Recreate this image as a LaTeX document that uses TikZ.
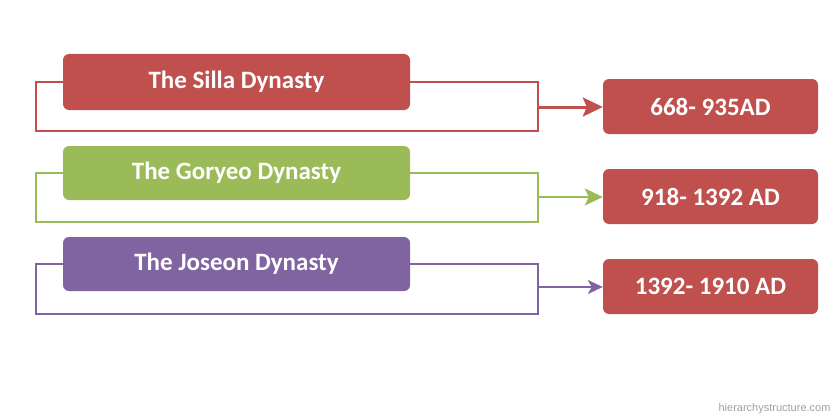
\documentclass[tikz,border=0pt]{standalone}
\usepackage{fontspec}
\setmainfont{Carlito}
\newfontfamily\wmfont{Liberation Sans}
\usetikzlibrary{arrows.meta}
\definecolor{cred}{HTML}{C0504D}
\definecolor{cgreen}{HTML}{9BBB59}
\definecolor{cpurple}{HTML}{8064A2}
\tikzset{
  dyn/.style={fill=#1, draw=none, rounded corners=6pt, text=white, font=\bfseries\fontsize{25}{27}\selectfont, inner sep=0pt},
  bracket/.style={draw=#1, line width=2pt},
}
\begin{document}
\begin{tikzpicture}[x=1pt,y=-1pt]
\useasboundingbox (0,0) rectangle (840,420);
% brackets
\draw[bracket=cred, line width=2.4pt] (36,82) rectangle (538,131);
\draw[bracket=cgreen, line width=2.2pt] (36,173) rectangle (538,222);
\draw[bracket=cpurple, line width=2pt] (36,264) rectangle (538,314);
% dynasty boxes
\node[dyn=cred, minimum width=347pt, minimum height=56pt] (silla) at (236.5,82) {The Silla Dynasty};
\node[dyn=cgreen, minimum width=347pt, minimum height=54pt] (goryeo) at (236.5,173) {The Goryeo Dynasty};
\node[dyn=cpurple, minimum width=347pt, minimum height=54pt] (joseon) at (236.5,264) {The Joseon Dynasty};
% date boxes
\node[dyn=cred, minimum width=215pt, minimum height=55pt] (d1) at (710.5,106.5) {668- 935AD};
\node[dyn=cred, minimum width=215pt, minimum height=55pt] (d2) at (710.5,196.5) {918- 1392 AD};
\node[dyn=cred, minimum width=215pt, minimum height=55pt] (d3) at (710.5,286.5) {1392- 1910 AD};
% arrows
\coordinate (a1) at (538,107);
\coordinate (a2) at (538,197);
\coordinate (a3) at (538,287);
\draw[cred, line width=3pt, -{Stealth[length=20pt,width=19pt,inset=4pt]}] (a1) -- (a1 -| d1.west);
\draw[cgreen, line width=2.4pt, -{Stealth[length=18pt,width=17pt,inset=4pt]}] (a2) -- (a2 -| d2.west);
\draw[cpurple, line width=2pt, -{Stealth[length=15pt,width=14pt,inset=4pt]}] (a3) -- (a3 -| d3.west);
\node[text=gray!75, font=\wmfont\fontsize{11}{12}\selectfont, anchor=east] (wm) at (834,409) {hierarchystructure.com};
\end{tikzpicture}
\end{document}
